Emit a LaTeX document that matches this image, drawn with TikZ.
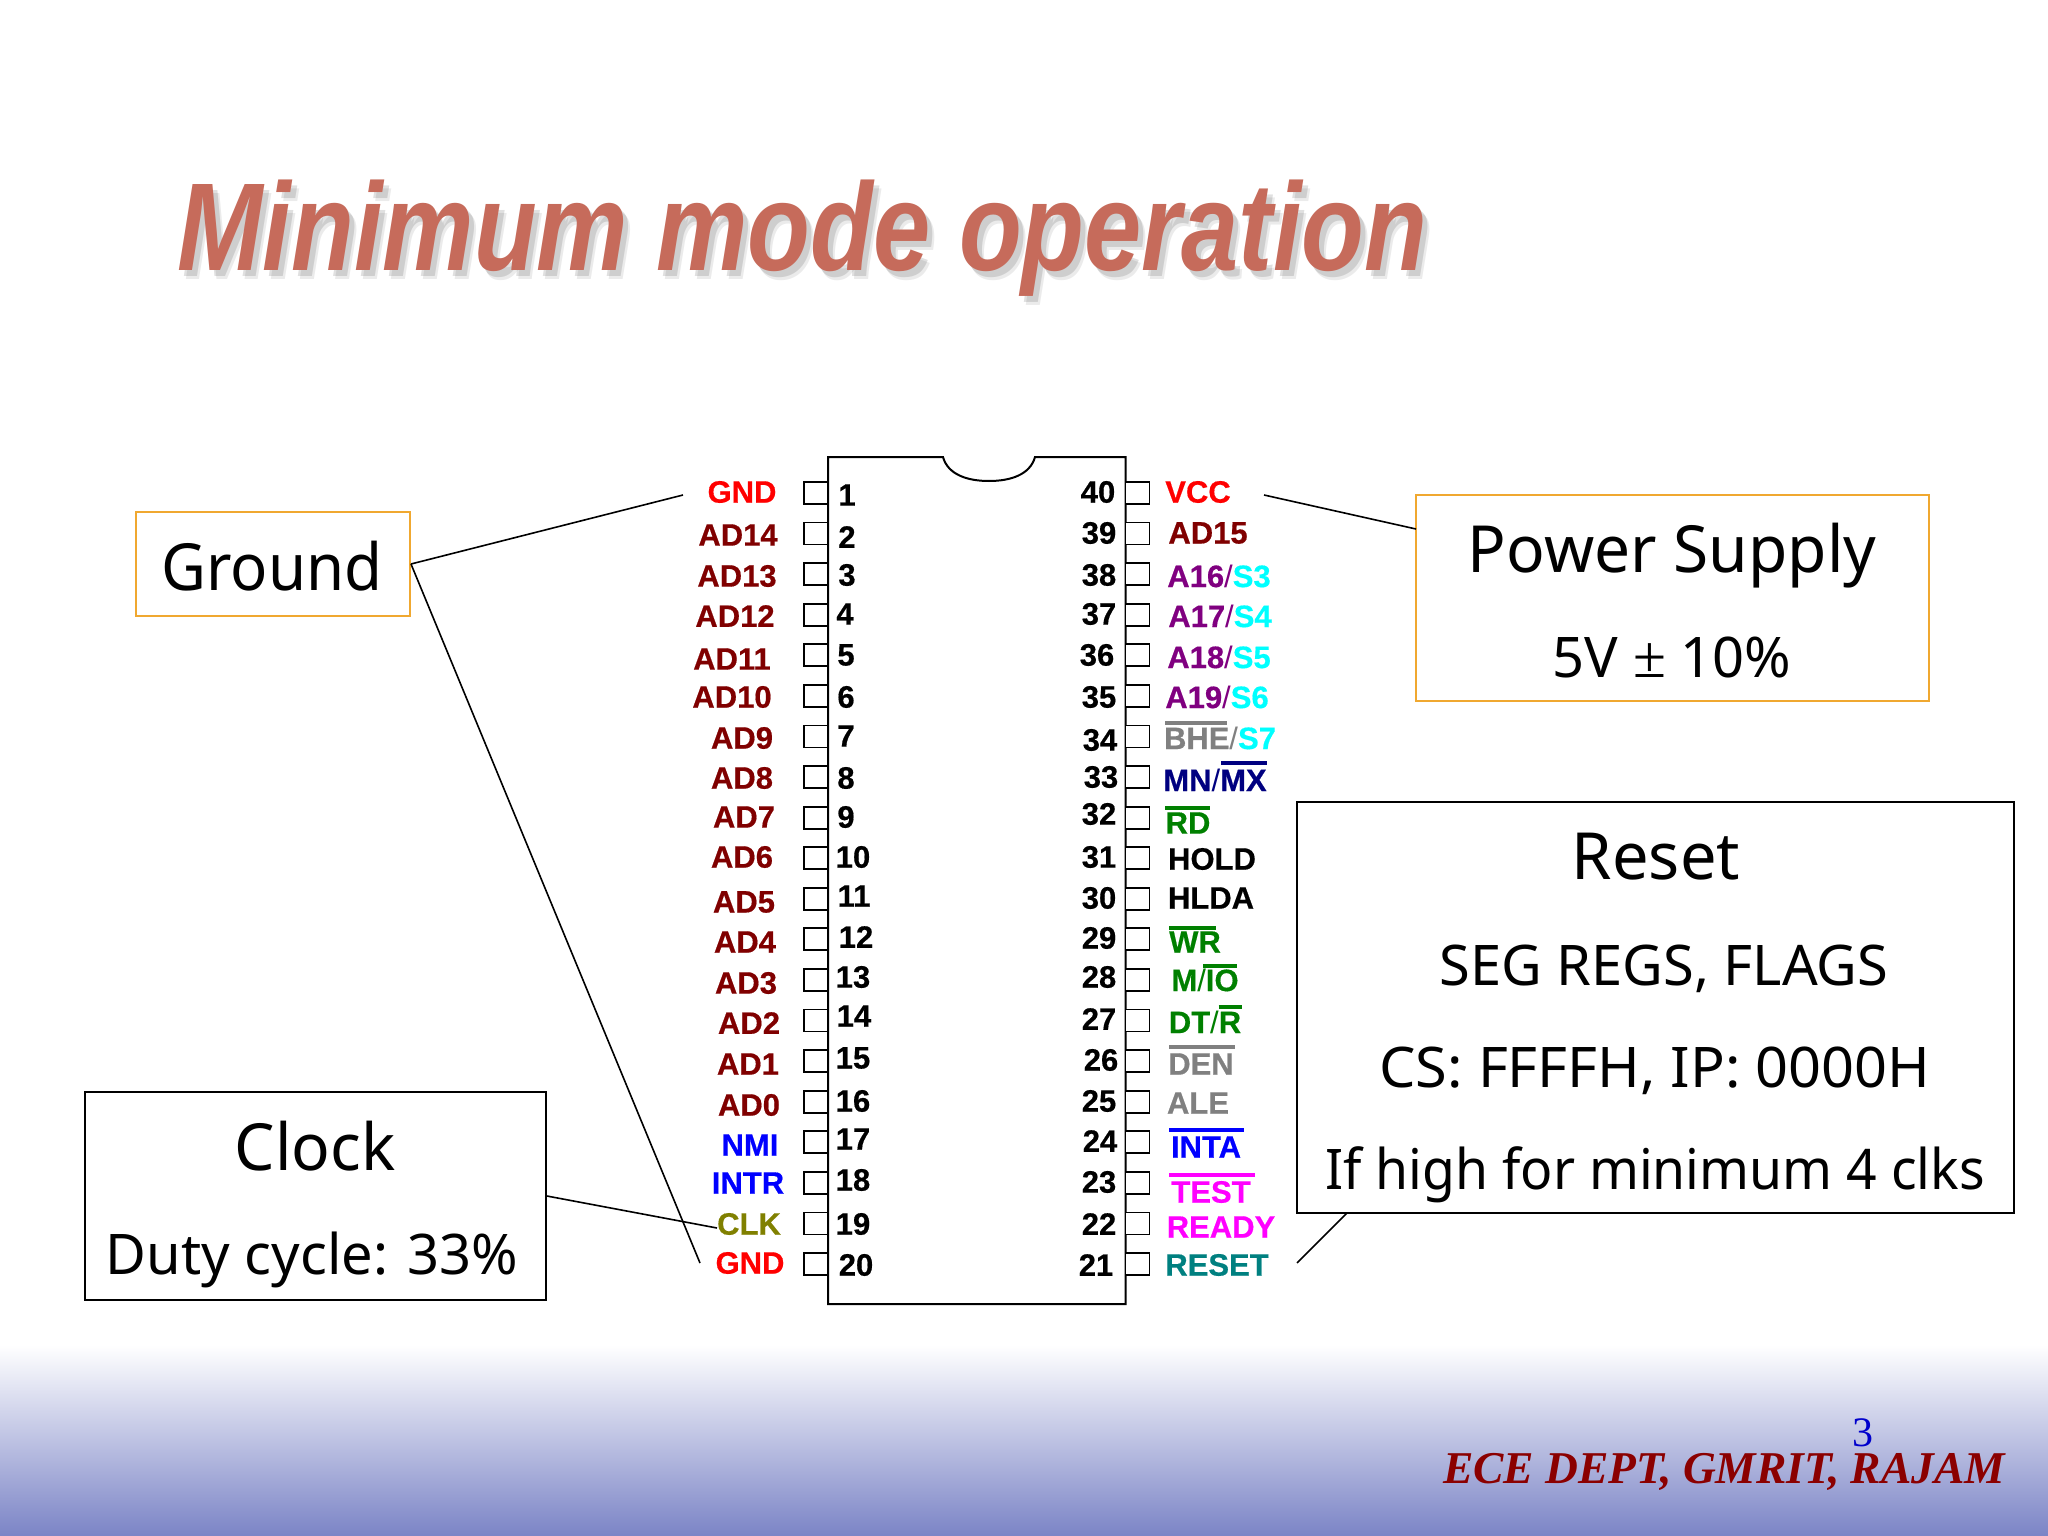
\documentclass[tikz,border=0pt]{standalone}
\usepackage{fontspec}
\setmainfont{Noto Sans}
\newfontfamily\pinfont{Liberation Sans}[BoldFeatures={FakeBold=0.5}]
\newfontfamily\titlefont{Liberation Sans}
\newfontfamily\footfont{Liberation Serif}
\definecolor{cDR}{HTML}{800000}
\definecolor{cRD}{HTML}{FF0000}
\definecolor{cPU}{HTML}{800080}
\definecolor{cCY}{HTML}{00FFFF}
\definecolor{cGY}{HTML}{808080}
\definecolor{cNV}{HTML}{000080}
\definecolor{cGN}{HTML}{008000}
\definecolor{cBL}{HTML}{0000FF}
\definecolor{cOL}{HTML}{808000}
\definecolor{cMG}{HTML}{FF00FF}
\definecolor{cTL}{HTML}{008080}
\definecolor{cTitle}{HTML}{C66B5B}
\definecolor{cOrange}{HTML}{F0A830}
\definecolor{cFoot}{HTML}{8B0000}
\definecolor{cBottom}{HTML}{7B84C6}
\newcommand{\SL}{{\fontseries{m}\selectfont/}}
\tikzset{
  pinlabel/.style={inner sep=0pt,font=\fontsize{31}{36}\selectfont\pinfont\bfseries},
  pinnum/.style={inner sep=0pt,font=\fontsize{31}{36}\selectfont\pinfont\bfseries,text=black},
  pinsq/.style={draw=black,line width=1.8pt,minimum width=24pt,minimum height=22pt,inner sep=0pt,fill=white},
  bar/.style={line width=4pt},
  calloutO/.style={draw=cOrange,line width=2pt,fill=white},
  calloutK/.style={draw=black,line width=1.8pt,fill=white},
  big/.style={inner sep=0pt,transform shape,font=\fontsize{65}{70}\selectfont},
  mid/.style={inner sep=0pt,transform shape,font=\fontsize{56}{60}\selectfont},
  lead/.style={draw=black,line width=1.6pt},
}
\begin{document}
\begin{tikzpicture}[x=1pt,y=-1pt]
\useasboundingbox (0,0) rectangle (2048,1536);
\fill[white] (0,0) rectangle (2048,1536);
\shade[top color=white,bottom color=cBottom] (0,1345) rectangle (2048,1536);
% title
\begin{scope}[every node/.style={inner sep=0pt,anchor=base west,xscale=.822,transform shape,font=\fontsize{125}{130}\selectfont\titlefont\bfseries\itshape}]
\node[text=black,opacity=.08] (titleA) at (184,279) {Minimum mode operation};
\node[text=black,opacity=.12] (titleB) at (182,276) {Minimum mode operation};
\node[text=cTitle] (title) at (177,270) {Minimum mode operation};
\end{scope}
% chip
\draw[line width=2pt] (828,457) -- (943,457) .. controls (948,475) and (968,481) .. (989,481) .. controls (1010,481) and (1030,475) .. (1035,457) -- (1125.5,457) -- (1125.5,1304) -- (828,1304) -- cycle;
\foreach \i in {1,...,20}{
  \pgfmathsetmacro\yy{493+(\i-1)*40.58}
  \node[pinsq] (pl\i) at (816,\yy) {};
  \node[pinsq] (pr\i) at (1137.5,\yy) {};
}
% pin numbers
\foreach \n/\x/\y in {1/847/495,2/847/537,3/847/575,4/845/614,5/846/655,6/846/697,7/846/736,8/846/778,9/846/817,10/853/857,
 11/854/896,12/856/937,13/853/977,14/854/1016,15/853/1058,16/853/1101,17/853/1139,18/853/1180,19/853/1224,20/856/1265,
 40/1098/492,39/1099/533,38/1099/575,37/1099/614,36/1097/655,35/1099/697,34/1100/740,33/1101/777,32/1099/814,31/1099/857,
 30/1099/898,29/1099/938,28/1099/977,27/1099/1019,26/1101/1060,25/1099/1101,24/1100/1141,23/1099/1182,22/1099/1224,21/1096/1265}{
  \node[pinnum] (num\n) at (\x,\y) {\n};
}
% left labels
\foreach \n/\x/\y/\c/\t in {a/742/492/cRD/GND,b/738/535/cDR/AD14,c/737/576/cDR/AD13,d/735/616/cDR/AD12,e/732/659/cDR/AD11,f/732/697/cDR/AD10,
 g/742/738/cDR/AD9,h/742/778/cDR/AD8,i/744/817/cDR/AD7,j/742/857/cDR/AD6,k/744/902/cDR/AD5,l/745/942/cDR/AD4,m/746/983/cDR/AD3,n/749/1023/cDR/AD2,
 o/748/1064/cDR/AD1,p/749/1105/cDR/AD0,q/750/1145/cBL/NMI,r/748/1183/cBL/INTR,s/749/1224/cOL/CLK,t/750/1263/cRD/GND}{
  \node[pinlabel,text=\c] (L\n) at (\x,\y) {\t};
}
% right labels
\node[pinlabel,text=cRD] (Rvcc) at (1198,492) {VCC};
\node[pinlabel,text=cDR] (Rad15) at (1208,533) {AD15};
\node[pinlabel,text=cPU] (Ra16) at (1219,576) {A16\SL\textcolor{cCY}{S3}};
\node[pinlabel,text=cPU] (Ra17) at (1220,616) {A17\SL\textcolor{cCY}{S4}};
\node[pinlabel,text=cPU] (Ra18) at (1219,657) {A18\SL\textcolor{cCY}{S5}};
\node[pinlabel,text=cPU] (Ra19) at (1217,697) {A19\SL\textcolor{cCY}{S6}};
\node[pinlabel,text=cGY] (Rbhe) at (1220,738) {BHE\SL\textcolor{cCY}{S7}};
\node[pinlabel,text=cNV] (Rmn) at (1215,780) {MN\SL MX};
\node[pinlabel,text=cGN] (Rrd) at (1188,823) {RD};
\node[pinlabel,text=black] (Rhold) at (1212,859) {HOLD};
\node[pinlabel,text=black] (Rhlda) at (1211,898) {HLDA};
\node[pinlabel,text=cGN] (Rwr) at (1195,942) {WR};
\node[pinlabel,text=cGN] (Rmio) at (1205,980) {M\SL IO};
\node[pinlabel,text=cGN] (Rdt) at (1205,1022) {DT\SL R};
\node[pinlabel,text=cGY] (Rden) at (1201,1064) {DEN};
\node[pinlabel,text=cGY] (Rale) at (1198,1103) {ALE};
\node[pinlabel,text=cBL] (Rinta) at (1206,1147) {INTA};
\node[pinlabel,text=cMG] (Rtest) at (1211,1192) {TEST};
\node[pinlabel,text=cMG] (Rready) at (1221,1227) {READY};
\node[pinlabel,text=cTL] (Rreset) at (1217,1265) {RESET};
% overbars
\draw[bar,cGY] (1165,723) -- (1226.5,723);
\draw[bar,cNV] (1221,763) -- (1267,763);
\draw[bar,cGN] (1165,808) -- (1210,808);
\draw[bar,cGN] (1169,928) -- (1216,928);
\draw[bar,cGN] (1203,966) -- (1237,966);
\draw[bar,cGN] (1218.5,1007) -- (1242,1007);
\draw[bar,cGY] (1169,1047) -- (1235,1047);
\draw[bar,cBL] (1169,1130) -- (1244,1130);
\draw[bar,cMG] (1169,1175) -- (1255,1175);
% callouts
\node[calloutO,minimum width=274pt,minimum height=104pt,inner sep=0pt] (ground) at (273,564) {};
\node[big,xscale=.95] (groundT) at (272,566) {Ground};
\node[calloutO,minimum width=513pt,minimum height=206pt,inner sep=0pt] (power) at (1672.5,598) {};
\node[big,xscale=.985] (powerT) at (1672,556) {Power Supply};
\node[mid] (powerV) at (1672,657) {5V {\footfont\fontsize{60}{60}\selectfont ±} 10\%};
\node[calloutK,minimum width=717pt,minimum height=411pt,inner sep=0pt] (reset) at (1655.5,1007.5) {};
\node[big] (resetT) at (1656,857) {Reset};
\node[mid] (resetA) at (1664,969) {SEG REGS, FLAGS};
\node[mid,xscale=1.03] (resetB) at (1655,1071) {CS: FFFFH, IP: 0000H};
\node[mid,xscale=.955] (resetC) at (1655,1175) {If high for minimum 4 clks};
\node[calloutK,minimum width=461pt,minimum height=208pt,inner sep=0pt] (clock) at (315.5,1196) {};
\node[big,xscale=.985] (clockT) at (315,1146) {Clock};
\node[mid] (clockD) at (312,1260) {Duty cycle: 33\%};
% connectors
\coordinate (gE1) at (683,495);
\coordinate (gE2) at (700,1263);
\coordinate (vE) at (1264,495);
\coordinate (pW) at (1416,529);
\coordinate (cE) at (717,1228);
\coordinate (rS) at (1347,1213);
\coordinate (rE) at (1297,1263);
\draw[lead] (ground.east) -- (gE1);
\draw[lead] (ground.east) -- (gE2);
\draw[lead] (pW) -- (vE);
\draw[lead] (clock.east) -- (cE);
\draw[lead] (rS) -- (rE);
% footer
\node[inner sep=0pt,anchor=base west,text=cFoot,font=\fontsize{45.5}{50}\selectfont\footfont\bfseries\itshape] (dept) at (1443,1483) {ECE DEPT, GMRIT, RAJAM};
\node[inner sep=0pt,text=blue!80!black,font=\fontsize{42}{46}\selectfont\footfont] (page) at (1863,1433) {3};
\end{tikzpicture}
\end{document}
